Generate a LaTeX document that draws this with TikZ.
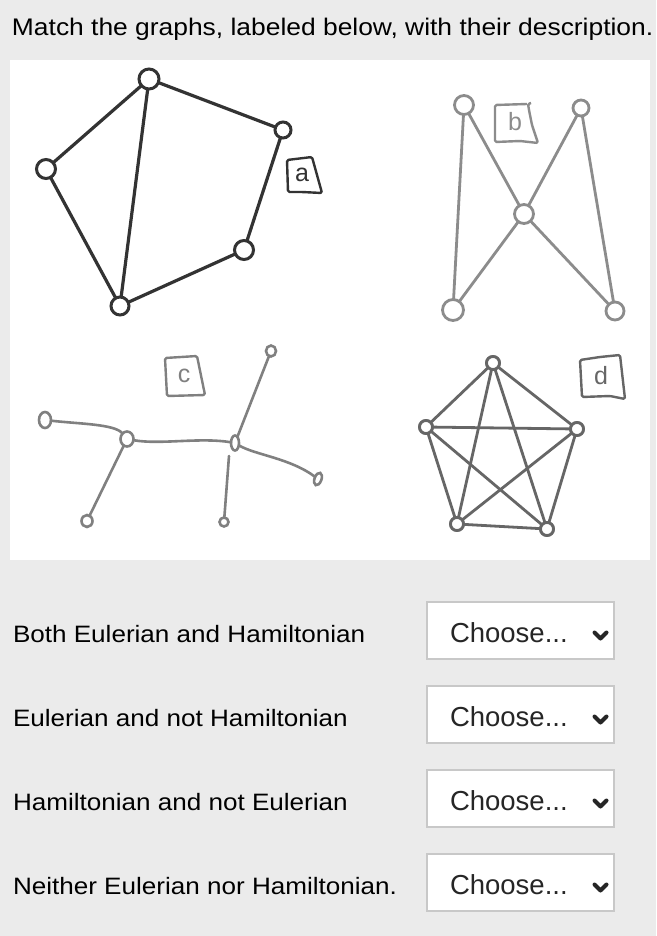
\documentclass[tikz,border=0pt]{standalone}
\usepackage{fontspec}
\setmainfont[FakeStretch=1.1]{Liberation Sans}
\newfontfamily\chfont{Liberation Sans}
\usetikzlibrary{shapes.geometric}
\definecolor{bgc}{HTML}{EBEBEB}
\definecolor{ca}{HTML}{333333}
\definecolor{cb}{HTML}{8C8C8C}
\definecolor{cc}{HTML}{808080}
\definecolor{cd}{HTML}{666666}
\definecolor{ddb}{HTML}{C8C8C8}
\begin{document}
\begin{tikzpicture}[x=1pt,y=-1pt,
  every node/.style={inner sep=0pt, outer sep=0pt},
  txt/.style={anchor=base west, font=\fontsize{23.7}{28}\selectfont, text=black},
  ttl/.style={anchor=base west, font=\fontsize{24}{28}\selectfont, text=black},
  chtxt/.style={anchor=base west, font=\chfont\fontsize{27.5}{32}\selectfont, text=black!85},
  ddbox/.style={draw=ddb, line width=2pt, fill=white, minimum width=187pt, minimum height=57pt},
  chev/.style={draw=black!85, line width=4pt, line cap=round, line join=round},
  na/.style={circle, draw=ca, fill=white, line width=3pt},
  ea/.style={draw=ca, line width=3.2pt},
  nb/.style={circle, draw=cb, fill=white, line width=2.8pt},
  eb/.style={draw=cb, line width=2.8pt},
  nc/.style={ellipse, draw=cc, fill=white, line width=2.6pt},
  ec/.style={draw=cc, line width=2.6pt, line cap=round},
  nd/.style={circle, draw=cd, fill=white, line width=2.8pt, minimum size=13pt},
  ed/.style={draw=cd, line width=2.8pt},
  lbox/.style={line width=2.4pt, line join=round, rounded corners=1.5pt},
  ltr/.style={font=\chfont\fontsize{25}{25}\selectfont}
]
\fill[bgc] (0,0) rectangle (656,936);
\useasboundingbox (0,0) rectangle (656,936);
\fill[white] (10,60) rectangle (650,560);

% title
\node[ttl] (title) at (12,36) {Match the graphs, labeled below, with their description.};

% ---- graph a
\node[na, minimum size=20pt] (a1) at (149,79) {};
\node[na, minimum size=16pt] (a2) at (283,130) {};
\node[na, minimum size=19pt] (a3) at (46,169) {};
\node[na, minimum size=19pt] (a4) at (244,250) {};
\node[na, minimum size=18pt] (a5) at (120,306) {};
\draw[ea] (a1) -- (a2);
\draw[ea] (a1) -- (a3);
\draw[ea] (a1) -- (a5);
\draw[ea] (a3) -- (a5);
\draw[ea] (a5) -- (a4);
\draw[ea] (a4) -- (a2);
\draw[ca, lbox] (287,160) -- (312,157) -- (322,193) -- (302,192) -- (288,192) -- cycle;
\node[ltr, text=ca] (la) at (302,175) {a};

% ---- graph b
\node[nb, minimum size=19pt] (b1) at (464,105) {};
\node[nb, minimum size=16pt] (b2) at (581,108) {};
\node[nb, minimum size=19pt] (b3) at (524,214) {};
\node[nb, minimum size=21pt] (b4) at (453,310) {};
\node[nb, minimum size=18pt] (b5) at (615,311) {};
\draw[eb] (b1) -- (b4);
\draw[eb] (b1) -- (b3);
\draw[eb] (b2) -- (b3);
\draw[eb] (b2) -- (b5);
\draw[eb] (b3) -- (b4);
\draw[eb] (b3) -- (b5);
\draw[cb, lbox] (527,104) -- (495,105) -- (495,142) -- (520,141) -- (538,143) -- (532,125) -- (529,110) -- (528,104) -- (531,103);
\node[ltr, text=cb] (lb) at (515,122) {b};

% ---- graph c
\node[nc, minimum width=12pt, minimum height=16pt] (c1) at (45,420) {};
\node[nc, minimum width=13pt, minimum height=15pt] (c2) at (127,439) {};
\node[nc, minimum width=8pt, minimum height=15pt] (c3) at (235,443) {};
\node[nc, minimum width=10pt, minimum height=11pt] (c4) at (271,351) {};
\node[nc, minimum width=7pt, minimum height=13pt, rotate=-20] (c5) at (318,479) {};
\node[nc, minimum width=11pt, minimum height=12pt] (c6) at (87,521) {};
\node[nc, minimum width=9pt, minimum height=9pt] (c7) at (224,522) {};
\draw[ec] (c1) .. controls (80,424) and (115,424) .. (c2);
\draw[ec] (c2) .. controls (160,445) and (200,437) .. (c3);
\draw[ec] (c3) -- (c4);
\draw[ec] (c3) .. controls (255,455) and (290,458) .. (c5);
\draw[ec] (c7) -- (229,456);
\draw[ec] (c2) -- (c6);
\draw[cc, lbox] (165,358) -- (197,356) -- (205,395) -- (167,396) -- cycle;
\node[ltr, text=cc] (lc) at (184,376) {c};

% ---- graph d
\node[nd] (d1) at (493,363) {};
\node[nd] (d2) at (426,427) {};
\node[nd] (d3) at (577,429) {};
\node[nd] (d4) at (457,524) {};
\node[nd] (d5) at (547,529) {};
\draw[ed] (d1) -- (d2);
\draw[ed] (d1) -- (d3);
\draw[ed] (d1) -- (d4);
\draw[ed] (d1) -- (d5);
\draw[ed] (d2) -- (d3);
\draw[ed] (d2) -- (d4);
\draw[ed] (d2) -- (d5);
\draw[ed] (d3) -- (d4);
\draw[ed] (d3) -- (d5);
\draw[ed] (d4) -- (d5);
\node[nd] at (493,363) {};
\node[nd] at (426,427) {};
\node[nd] at (577,429) {};
\node[nd] at (457,524) {};
\node[nd] at (547,529) {};
\draw[cd, lbox] (580,360) -- (600,357) -- (620,355) -- (625,399) -- (610,396) -- (582,397) -- cycle;
\node[ltr, text=cd] (ld) at (601,376) {d};

% ---- questions
\node[txt] (q1) at (13,642) {Both Eulerian and Hamiltonian};
\node[txt] (q2) at (13,726) {Eulerian and not Hamiltonian};
\node[txt] (q3) at (13,810) {Hamiltonian and not Eulerian};
\node[txt] (q4) at (13,894) {Neither Eulerian nor Hamiltonian.};

\foreach \i/\y in {1/630,2/714,3/798,4/882}{
  \node[ddbox] (dd\i) at (520.5,\y) {};
  \node[chtxt] (ch\i) at (450,\y+12) {Choose...};
  \draw[chev] (594.5,\y+2.5) -- (600.5,\y+8.5) -- (606.5,\y+2.5);
}
\end{tikzpicture}
\end{document}
